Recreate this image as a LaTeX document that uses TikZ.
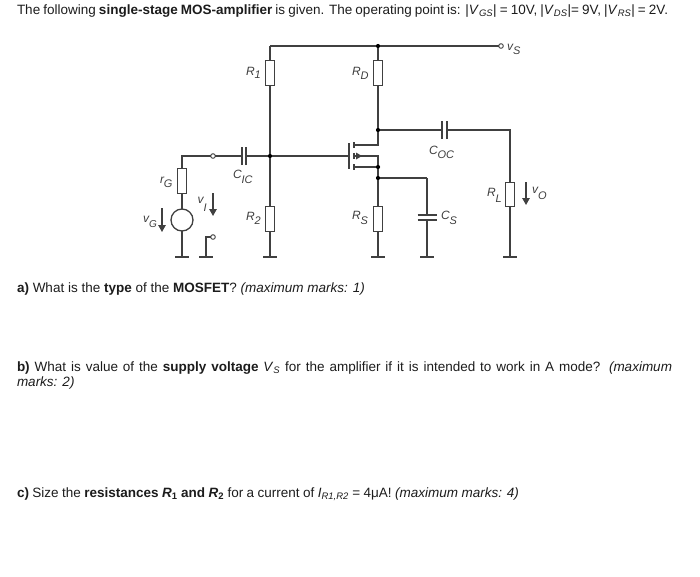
\documentclass[tikz,border=0pt]{standalone}
\usepackage{fontspec}
\setmainfont{Liberation Sans}
\usetikzlibrary{arrows.meta}
\definecolor{wirec}{HTML}{404040}
\definecolor{textc}{HTML}{1C1C1C}
\tikzset{
  wire/.style={draw=wirec,line width=1.3pt},
  resbox/.style={draw=wirec,line width=1.3pt,fill=white,minimum width=8.5pt,minimum height=24.5pt,inner sep=0pt,outer sep=0pt},
  dotj/.style={circle,fill=black,minimum size=4.2pt,inner sep=0pt,outer sep=0pt},
  openc/.style={circle,draw=wirec,line width=0.9pt,fill=white,minimum size=4.6pt,inner sep=0pt,outer sep=0pt},
  gnd/.style={draw=wirec,line width=1.3pt},
  lab/.style={anchor=base west,inner sep=0pt,outer sep=0pt,font=\fontsize{12}{13}\selectfont\itshape,text=textc!85!white},
  txt/.style={anchor=base west,inner sep=0pt,outer sep=0pt,font=\fontsize{13.5}{15}\selectfont,text=textc},
  volt/.style={draw=wirec,line width=1.3pt,-{Triangle[length=7pt,width=7.5pt]}},
}
\newcommand{\sbs}[1]{\textsubscript{\itshape #1}}
\newcommand{\lbs}[3]{#1\raisebox{-#3pt}{\fontsize{11}{12}\selectfont #2}}
\begin{document}
\begin{tikzpicture}[x=1pt,y=-1pt]
\useasboundingbox (0,0) rectangle (700,576);
% texts
\node[txt] (t1) at (17,14.5) {\makebox[651pt][s]{The following \textbf{single-stage MOS-amplifier} is given. The operating point is: |\textit{V}\sbs{GS}| = 10V, |\textit{V}\sbs{DS}|= 9V, |\textit{V}\sbs{RS}| = 2V.}};
\node[txt] (ta) at (17,292.5) {\textbf{a)} What is the \textbf{type} of the \textbf{MOSFET}? \textit{(maximum marks: 1)}};
\node[txt] (tb1) at (17,371) {\makebox[655pt][s]{\textbf{b)} What is value of the \textbf{supply voltage} \textit{V}\sbs{S} for the amplifier if it is intended to work in A mode? \textit{(maximum}}};
\node[txt] (tb2) at (17,386) {\textit{marks: 2)}};
\node[txt] (tc) at (17,497) {\makebox[502pt][s]{\textbf{c)} Size the \textbf{resistances \textit{R}\textsubscript{1} and \textit{R}\textsubscript{2}} for a current of \textit{I}\sbs{R1,R2} = 4μA! \textit{(maximum marks: 4)}}};
% junctions and terminals
\coordinate (topl) at (270,46);
\node[dotj] (jtop) at (378,46) {};
\node[openc] (vsc) at (501,46) {};
\node[dotj] (jg) at (270,156) {};
\node[openc] (inc) at (213,156) {};
\node[openc] (gnc) at (213,237) {};
\node[dotj] (jd) at (378,130) {};
\node[dotj] (js1) at (378,167) {};
\node[dotj] (js2) at (378,178) {};
\coordinate (rlt) at (510,130);
\coordinate (cst) at (427,178);
% resistors
\node[resbox] (r1) at (270,73) {};
\node[resbox] (r2) at (270,219) {};
\node[resbox] (rd) at (378,73) {};
\node[resbox] (rs) at (378,219) {};
\node[resbox] (rl) at (510,194.5) {};
\node[resbox] (rg) at (182,181) {};
\node[circle,draw=wirec,line width=1.3pt,minimum size=22pt,inner sep=0pt,outer sep=0pt] (src) at (182,220) {};
% grounds
\foreach \n/\x in {g1/182,g2/206,g3/270,g4/378,g5/427,g6/510}{
  \coordinate (\n) at (\x,257);
  \draw[gnd] ([xshift=-7pt]\n) -- ([xshift=7pt]\n);
}
% wires
\draw[wire] (topl) -- (jtop) -- (vsc);
\draw[wire] (topl) -- (r1) (r1) -- (jg) -- (r2) (r2) -- (g3);
\draw[wire] (jtop) -- (rd) (rd) -- (jd);
\draw[wire] (rs) -- (g4);
\draw[wire] (js2) -- (rs);
\draw[wire] (js1) -- (js2) -- (cst);
\draw[wire] (rg) -- (src) (src) -- (g1);
\draw[wire] (rg) |- (inc);
\draw[wire] (g2) |- (gnc);
\draw[wire] (rl) -- (g6);
% capacitors
\coordinate (cic1) at (242,156); \coordinate (cic2) at (246,156);
\draw[wire] (inc) -- (cic1) (cic2) -- (jg);
\draw[wire] ([yshift=-9pt]cic1) -- ([yshift=9pt]cic1) ([yshift=-9pt]cic2) -- ([yshift=9pt]cic2);
\coordinate (coc1) at (442,130); \coordinate (coc2) at (447,130);
\draw[wire] (jd) -- (coc1) (coc2) -- (rlt) -- (rl);
\draw[wire] ([yshift=-9pt]coc1) -- ([yshift=9pt]coc1) ([yshift=-9pt]coc2) -- ([yshift=9pt]coc2);
\coordinate (cs1) at (427,215); \coordinate (cs2) at (427,220);
\draw[wire] (cst) -- (cs1) (cs2) -- (g5);
\draw[wire] ([xshift=-9.5pt]cs1) -- ([xshift=9.5pt]cs1) ([xshift=-9.5pt]cs2) -- ([xshift=9.5pt]cs2);
% MOSFET
\coordinate (gb) at (349,156);
\coordinate (md) at (354,145);
\coordinate (ms) at (354,156);
\coordinate (mb) at (354,167);
\draw[wire] (jg) -- (gb);
\draw[wire] (349,143) -- (349,169);
\draw[wire] (354,142) -- (354,148) (354,153) -- (354,159) (354,164) -- (354,170);
\draw[wire] (md) -| (jd);
\draw[wire] (mb) -- (js1);
\draw[wire] (ms) -| (js1);
\fill[wirec] (362,156) -- (356,152.5) -- (356,159.5) -- cycle;
% voltage arrows
\coordinate (vga) at (162,208); \coordinate (vgb) at (162,232);
\coordinate (via) at (213,193); \coordinate (vib) at (213,216);
\coordinate (voa) at (526,182); \coordinate (vob) at (526,205);
\draw[volt] (vga) -- (vgb);
\draw[volt] (via) -- (vib);
\draw[volt] (voa) -- (vob);
% labels
\node[lab] (lr1) at (246,75) {\lbs{R}{1}{3}};
\node[lab] (lr2) at (246,220) {\lbs{R}{2}{4}};
\node[lab] (lrd) at (352,75) {\lbs{R}{D}{4}};
\node[lab] (lrs) at (352,219) {\lbs{R}{S}{5}};
\node[lab] (lrl) at (487,196) {\lbs{R}{L}{6}};
\node[lab] (lrg) at (160,183) {\lbs{r}{G}{4}};
\node[lab] (lvg) at (143,222) {\lbs{v}{\fontsize{10}{11}\selectfont G}{5}};
\node[lab] (lvi) at (197.5,203) {\lbs{v}{I}{8}};
\node[lab] (lvo) at (532,193) {\lbs{v}{O}{6}};
\node[lab] (lvs) at (507,50) {\lbs{v}{S}{4}};
\node[lab] (lcic) at (233,178) {\lbs{C}{IC}{5}};
\node[lab] (lcoc) at (429,154) {\lbs{C}{OC}{4}};
\node[lab] (lcs) at (441,219) {\lbs{C}{S}{5}};
\end{tikzpicture}
\end{document}
